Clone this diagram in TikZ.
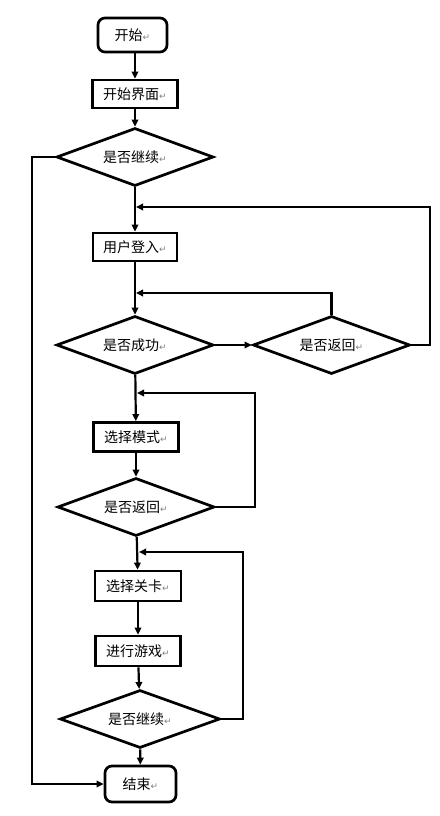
\documentclass[tikz,border=0pt]{standalone}
\usepackage{fontspec}
\newfontfamily\cjk{Noto Sans CJK SC}
\newfontfamily\dejavu{DejaVu Sans}
\usetikzlibrary{shapes.geometric,arrows.meta}
\newcommand{\retmark}{{\dejavu\color{gray}\fontsize{9}{9}\selectfont ↵}}
\begin{document}
\begin{tikzpicture}[x=1pt,y=-1pt,
  font=\cjk\fontsize{14}{14}\selectfont,
  flow/.style={line width=2.2pt},
  arr/.style={flow,-{Triangle[length=7pt,width=6.5pt]}},
  box/.style={draw,line width=2.7pt,inner sep=0pt},
  rbox/.style={box,rounded corners=7pt},
  dia/.style={diamond,draw,line width=2.7pt,inner sep=0pt,aspect=2.65,minimum width=157pt,minimum height=58pt}]
\useasboundingbox (0,0) rectangle (439,816);
\node[rbox,minimum width=69pt,minimum height=34pt] (start) at (132.5,35) {开始\retmark};
\node[box,minimum width=85pt,minimum height=28pt] (ui) at (135,94) {开始界面\retmark};
\node[dia] (c1) at (135,157) {是否继续\retmark};
\node[box,minimum width=84pt,minimum height=28pt] (login) at (135,247) {用户登入\retmark};
\node[dia] (ok) at (135,345) {是否成功\retmark};
\node[dia] (back1) at (331.5,345) {是否返回\retmark};
\node[box,minimum width=85pt,minimum height=29pt] (mode) at (136,437) {选择模式\retmark};
\node[dia] (back2) at (136,507) {是否返回\retmark};
\node[box,minimum width=86pt,minimum height=30pt] (level) at (138,586) {选择关卡\retmark};
\node[box,minimum width=85pt,minimum height=30pt] (play) at (138,651) {进行游戏\retmark};
\node[dia,minimum width=160pt] (c2) at (140,719) {是否继续\retmark};
\node[rbox,minimum width=71pt,minimum height=36pt] (end) at (140.5,784) {结束\retmark};
% main flow
\draw[arr] (ui.north |- start.south) -- (ui.north);
\draw[arr] (ui) -- (c1);
\draw[arr] (c1) -- (login);
\draw[arr] (login) -- (ok);
\draw[arr] (ok) -- (back1);
\draw[arr] (ok) -- (mode);
\draw[arr] (mode) -- (back2);
\draw[arr] (back2) -- (level);
\draw[arr] (level) -- (play);
\draw[arr] (play) -- (c2);
\draw[arr] (c2) -- (end);
% loops
\coordinate (m1) at (136,207);
\coordinate (r1) at (430,207);
\draw[arr] (back1.east) -| (r1) -- (m1);
\coordinate (m2) at (136,293);
\draw[arr] (back1.north) |- (m2);
\coordinate (m3) at (137,393);
\coordinate (r3) at (255,393);
\draw[arr] (back2.east) -| (r3) -- (m3);
\coordinate (m4) at (139,552);
\coordinate (r4) at (243,552);
\draw[arr] (c2.east) -| (r4) -- (m4);
\coordinate (l1) at (32,157);
\draw[arr] (c1.west) -- (l1) |- (end.west);
\end{tikzpicture}
\end{document}
